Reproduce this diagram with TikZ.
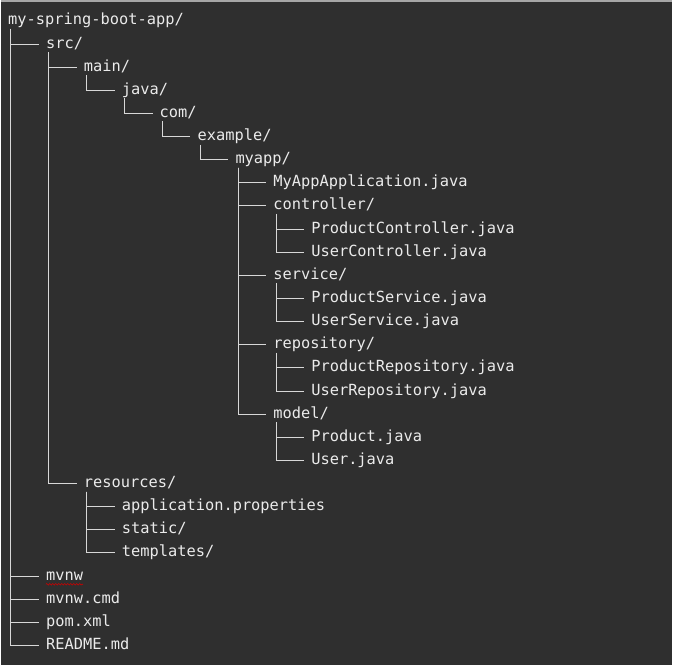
\documentclass[tikz,border=0pt]{standalone}
\usepackage{fontspec}
\setmonofont{DejaVu Sans Mono}
\usetikzlibrary{decorations.pathmorphing}
\definecolor{panel}{HTML}{2F2F2F}
\definecolor{treeline}{HTML}{D8D8D8}
\tikzset{
    item/.style={
           anchor=west,
           inner sep=0pt,
           text height=11pt,
           text depth=3pt,
           text=white!92!black,
           font=\ttfamily\fontsize{15.4}{18}\selectfont,
           },
    branch/.style={draw=treeline, line width=1pt},
}
\begin{document}
\begin{tikzpicture}[x=1pt,y=-1pt]
  \fill[panel] (0,0) rectangle (673,667);
  \draw[gray!70, line width=2pt] (0,1) -- (673,1);
  % entries: row / level / parent row / text
  \foreach \r/\l/\p/\t in {
    0/0/0/{my-spring-boot-app/},
    1/1/0/{src/}, 2/2/1/{main/}, 3/3/2/{java/}, 4/4/3/{com/},
    5/5/4/{example/}, 6/6/5/{myapp/},
    7/7/6/MyAppApplication.java,
    8/7/6/{controller/}, 9/8/8/ProductController.java, 10/8/8/UserController.java,
    11/7/6/{service/}, 12/8/11/ProductService.java, 13/8/11/UserService.java,
    14/7/6/{repository/}, 15/8/14/ProductRepository.java, 16/8/14/UserRepository.java,
    17/7/6/{model/}, 18/8/17/Product.java, 19/8/17/User.java,
    20/2/1/{resources/}, 21/3/20/application.properties,
    22/3/20/{static/}, 23/3/20/{templates/},
    24/1/0/mvnw, 25/1/0/mvnw.cmd, 26/1/0/pom.xml, 27/1/0/README.md}
  {
    \node[item] (n\r) at ({7+38*\l}, {21+23.2*\r}) {\t};
    \ifnum\r>0
      \draw[branch] (n\p.west) ++(3pt,-8pt) |- ([xshift=-7pt]n\r.west);
    \fi
  }
  % spell-check mark under mvnw
  \draw[red!80!black, line width=0.6pt,
        decorate, decoration={snake, amplitude=0.8pt, segment length=3pt}]
    ([yshift=-1pt]n24.south west) -- ([yshift=-1pt]n24.south east);
\end{tikzpicture}
\end{document}
